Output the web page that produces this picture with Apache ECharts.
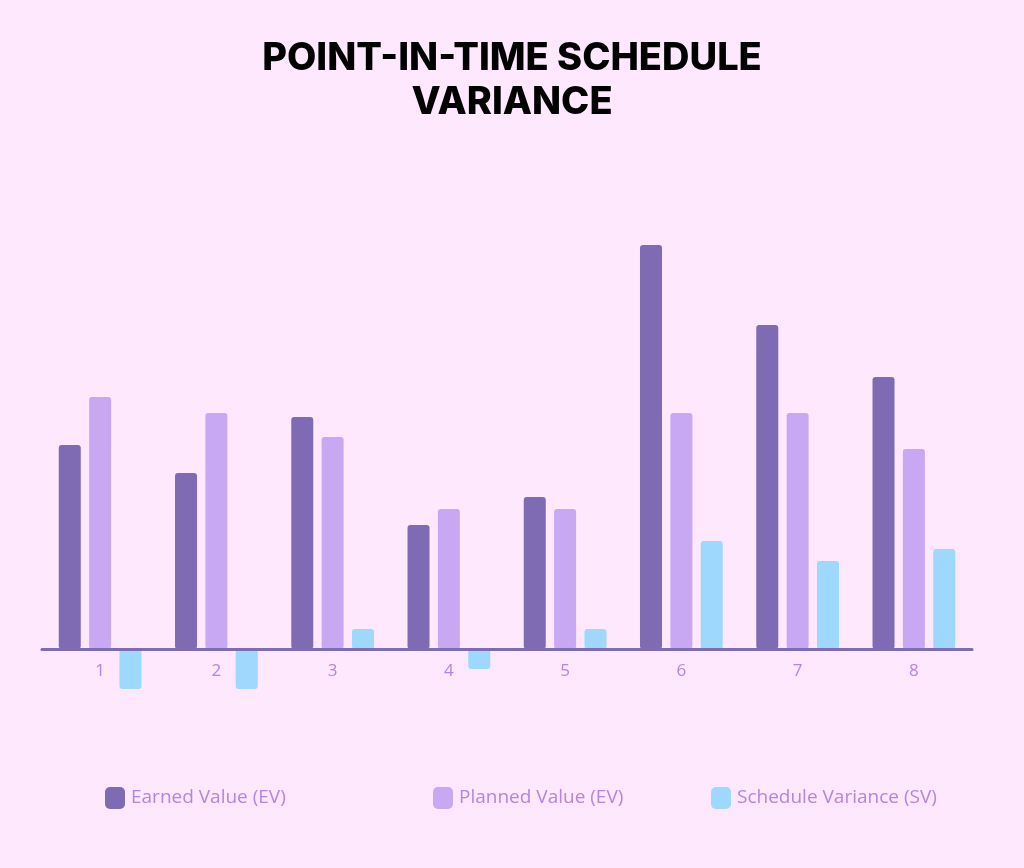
<!DOCTYPE html>
<html>
<head>
<meta charset="utf-8">
<script src="https://cdn.jsdelivr.net/npm/echarts@6/dist/echarts.min.js"></script>
<style>
html,body{margin:0;padding:0;background:#fde8fd;}
#chart{width:1024px;height:868px;}
</style>
</head>
<body>
<div id="chart"></div>
<script>
const titleText = 'POINT-IN-TIME SCHEDULE\nVARIANCE';
const categories = ['1','2','3','4','5','6','7','8'];
const earnedValue = [51, 44, 58, 31, 38, 101, 81, 68];
const plannedValue = [63, 59, 53, 35, 35, 59, 59, 50];
const scheduleVariance = [-10, -10, 5, -5, 5, 27, 22, 25];
const seriesNames = ['Earned Value (EV)', 'Planned Value (EV)', 'Schedule Variance (SV)'];
const colors = ['#7f6ab4', '#c9a8f3', '#9ed8fc'];

const chart = echarts.init(document.getElementById('chart'));
const labelColor = '#b585e3';
const legendBase = {
  top: 782,
  icon: 'roundRect',
  itemWidth: 20,
  itemHeight: 22,
  itemGap: 10,
  textStyle: { color: labelColor, fontSize: 19, fontFamily: 'Open Sans', padding: [0, 0, 0, 1] }
};
chart.setOption({
  backgroundColor: '#fde8fd',
  title: {
    text: titleText,
    left: 'center',
    top: 32,
    textStyle: { fontFamily: 'Inter', fontWeight: 800, fontSize: 38, lineHeight: 44, color: '#000000' }
  },
  legend: [
    Object.assign({}, legendBase, { left: 100, data: [seriesNames[0]] }),
    Object.assign({}, legendBase, { left: 428, data: [seriesNames[1]] }),
    Object.assign({}, legendBase, { left: 706, data: [seriesNames[2]] })
  ],
  grid: { left: 42, right: 52, top: 209, bottom: 219, containLabel: false },
  xAxis: {
    type: 'category',
    data: categories,
    axisLine: { lineStyle: { color: '#7f6ab4', width: 3, cap: 'round' } },
    axisTick: { show: false },
    axisLabel: { color: labelColor, fontSize: 17, fontFamily: 'Open Sans', margin: 14 },
    z: 10
  },
  yAxis: {
    type: 'value',
    min: 0,
    max: 110,
    show: false,
    splitLine: { show: false }
  },
  series: [
    { name: seriesNames[0], type: 'bar', clip: false, data: earnedValue, barWidth: 22, barGap: '38%', itemStyle: { color: colors[0], borderRadius: 3 } },
    { name: seriesNames[1], type: 'bar', clip: false, data: plannedValue, barWidth: 22, barGap: '38%', itemStyle: { color: colors[1], borderRadius: 3 } },
    { name: seriesNames[2], type: 'bar', clip: false, data: scheduleVariance, barWidth: 22, barGap: '38%', itemStyle: { color: colors[2], borderRadius: 3 } }
  ]
});
</script>
</body>
</html>
